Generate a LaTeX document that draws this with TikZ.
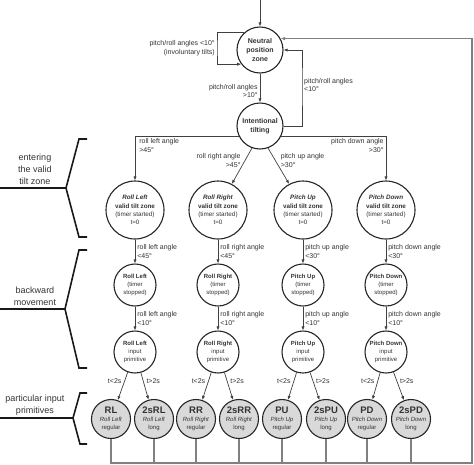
\documentclass[tikz,border=0pt]{standalone}
\usepackage{fontspec}
\setmainfont{Liberation Sans}
\usetikzlibrary{positioning,calc,arrows.meta}
\definecolor{txt}{HTML}{333333}
\definecolor{primfill}{HTML}{D9D9D9}
\newcommand*{\code}[1]{{\fontsize{9.5}{10}\selectfont\bfseries #1}}

\begin{document}
\begin{tikzpicture}[x=1pt,y=-1pt,
  state/.style={circle,draw=black!85,line width=1.1pt,inner sep=0pt,
    align=center,text=txt,font=\fontsize{6.3}{8.4}\selectfont},
  mainstate/.style={state,minimum size=46pt,font=\fontsize{7}{8.8}\selectfont\bfseries},
  bigstate/.style={state,minimum size=58pt},
  smallstate/.style={state,minimum size=42pt,font=\fontsize{6}{7.6}\selectfont},
  prim/.style={state,minimum size=39pt,fill=primfill,font=\fontsize{6}{7.8}\selectfont},
  arr/.style={draw=black!75,line width=0.7pt,-{Latex[length=4pt,width=3.2pt]}},
  ret/.style={draw=black!50,line width=1.2pt},
  cond/.style={font=\fontsize{7}{8.4}\selectfont,text=txt,inner sep=2pt},
  brace/.style={draw=black!90,line width=1.6pt},
  side/.style={font=\fontsize{9}{12}\selectfont,text=txt,align=center}]
\useasboundingbox (0,0) rectangle (474,464);
% Start and the two top states
\coordinate (top) at (260,0);
\node[mainstate] (neutral) at (260,50) {Neutral\\position\\zone};
\node[mainstate] (intent) at (260,126) {Intentional\\tilting};
\draw[arr] (top) -- (neutral);
% Involuntary tilts loop
\coordinate (loop) at (217,48);
\draw[arr] (neutral.132) -| (loop) |- (neutral.217);
\node[cond,left,align=right] (loopl) at (loop) {pitch/roll angles <10°\\(involuntary tilts)};
\draw[arr] (neutral) -- node[cond,pos=0.6,left,align=right] {pitch/roll angles\\>10°} (intent);
% Back to neutral
\coordinate (back) at (302,85);
\draw[arr] (intent.east) -| (back) |- (neutral.east);
\node[cond,right,align=left] (backl) at (back) {pitch/roll angles\\<10°};
% Valid tilt zones
\node[bigstate] (RLz) at (135,210) {\textbf{\textit{Roll Left}}\\\textbf{valid tilt zone}\\(timer started)\\t=0};
\node[bigstate] (RRz) at (218,210) {\textbf{\textit{Roll Right}}\\\textbf{valid tilt zone}\\(timer started)\\t=0};
\node[bigstate] (PUz) at (303,210) {\textbf{\textit{Pitch Up}}\\\textbf{valid tilt zone}\\(timer started)\\t=0};
\node[bigstate] (PDz) at (386,210) {\textbf{\textit{Pitch Down}}\\\textbf{valid tilt zone}\\(timer started)\\t=0};
\draw[arr] (intent.206) -| node[cond,pos=0.5,below right,align=left,xshift=2pt] {roll left angle\\>45°} (RLz);
\draw[arr] (intent.250) -- node[cond,pos=0.35,left,align=right,xshift=-2pt] {roll right angle\\>45°} (RRz.62);
\draw[arr] (intent.290) -- node[cond,pos=0.35,right,align=left,xshift=3pt] {pitch up angle\\>30°} (PUz.118);
\draw[arr] (intent.334) -| node[cond,pos=0.5,below left,align=right] {pitch down angle\\>30°} (PDz);
% Timer stopped
\node[smallstate] (RLs) at (135,285) {\textbf{Roll Left}\\(timer\\stopped)};
\node[smallstate] (RRs) at (218,285) {\textbf{Roll Right}\\(timer\\stopped)};
\node[smallstate] (PUs) at (303,285) {\textbf{Pitch Up}\\(timer\\stopped)};
\node[smallstate] (PDs) at (386,285) {\textbf{Pitch Down}\\(timer\\stopped)};
\draw[arr] (RLz) -- node[cond,right,align=left] {roll left angle\\<45°} (RLs);
\draw[arr] (RRz) -- node[cond,right,align=left] {roll right angle\\<45°} (RRs);
\draw[arr] (PUz) -- node[cond,right,align=left] {pitch up angle\\<30°} (PUs);
\draw[arr] (PDz) -- node[cond,right,align=left] {pitch down angle\\<30°} (PDs);
% Input primitives
\node[smallstate] (RLi) at (135,352) {\textbf{Roll Left}\\input\\primitive};
\node[smallstate] (RRi) at (218,352) {\textbf{Roll Right}\\input\\primitive};
\node[smallstate] (PUi) at (303,352) {\textbf{Pitch Up}\\input\\primitive};
\node[smallstate] (PDi) at (386,352) {\textbf{Pitch Down}\\input\\primitive};
\draw[arr] (RLs) -- node[cond,right,align=left] {roll left angle\\<10°} (RLi);
\draw[arr] (RRs) -- node[cond,right,align=left] {roll right angle\\<10°} (RRi);
\draw[arr] (PUs) -- node[cond,right,align=left] {pitch up angle\\<10°} (PUi);
\draw[arr] (PDs) -- node[cond,right,align=left] {pitch down angle\\<10°} (PDi);
% Particular primitives
\node[prim] (RLp) at (111,419) {\code{RL}\\\textit{Roll Left}\\regular};
\node[prim] (RLl) at (154,419) {\code{2sRL}\\\textit{Roll Left}\\long};
\node[prim] (RRp) at (196,419) {\code{RR}\\\textit{Roll Right}\\regular};
\node[prim] (RRl) at (239,419) {\code{2sRR}\\\textit{Roll Right}\\long};
\node[prim] (PUp) at (282,419) {\code{PU}\\\textit{Pitch Up}\\regular};
\node[prim] (PUl) at (326,419) {\code{2sPU}\\\textit{Pitch Up}\\long};
\node[prim] (PDp) at (367,419) {\code{PD}\\\textit{Pitch Down}\\regular};
\node[prim] (PDl) at (411,419) {\code{2sPD}\\\textit{Pitch Down}\\long};
\draw[arr] (RLi) -- node[cond,pos=0.3,left,xshift=-1pt] {t<2s} (RLp);
\draw[arr] (RLi) -- node[cond,pos=0.3,right,xshift=1pt] {t>2s} (RLl);
\draw[arr] (RRi) -- node[cond,pos=0.3,left,xshift=-1pt] {t<2s} (RRp);
\draw[arr] (RRi) -- node[cond,pos=0.3,right,xshift=1pt] {t>2s} (RRl);
\draw[arr] (PUi) -- node[cond,pos=0.3,left,xshift=-1pt] {t<2s} (PUp);
\draw[arr] (PUi) -- node[cond,pos=0.3,right,xshift=1pt] {t>2s} (PUl);
\draw[arr] (PDi) -- node[cond,pos=0.3,left,xshift=-1pt] {t<2s} (PDp);
\draw[arr] (PDi) -- node[cond,pos=0.3,right,xshift=1pt] {t>2s} (PDl);
% Return to the neutral zone
\coordinate (corner) at (472,463);
\draw[ret,-{Latex[length=4.5pt,width=3.6pt]}] (RLp) -- (RLp |- corner) -- (corner) |- (neutral.29);
\draw[ret] (RLl) -- (RLl |- corner);
\draw[ret] (RRp) -- (RRp |- corner);
\draw[ret] (RRl) -- (RRl |- corner);
\draw[ret] (PUp) -- (PUp |- corner);
\draw[ret] (PUl) -- (PUl |- corner);
\draw[ret] (PDp) -- (PDp |- corner);
\draw[ret] (PDl) -- (PDl |- corner);
% Braces on the left
\coordinate (b1) at (66,188);
\draw[brace] (87,139) -- (79,139) -- (b1) -- (79,237) -- (87,237);
\draw[brace] (0,188) -- (b1);
\node[side] (s1) at (35,169) {entering\\the valid\\tilt zone};
\coordinate (b2) at (65,309);
\draw[brace] (87,250) -- (79,250) -- (b2) -- (79,368) -- (87,368);
\draw[brace] (0,309) -- (b2);
\node[side] (s2) at (35,296) {backward\\movement};
\coordinate (b3) at (73,418);
\draw[brace] (87,393) -- (80,393) -- (b3) -- (80,444) -- (87,444);
\draw[brace] (0,418) -- (b3);
\node[side] (s3) at (35,405) {particular input\\primitives};
\end{tikzpicture}
\end{document}
